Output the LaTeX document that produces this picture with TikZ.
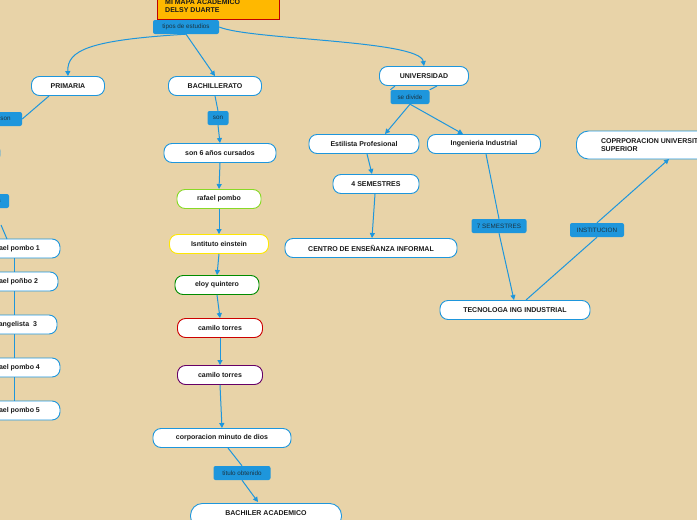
\documentclass[tikz,border=0pt]{standalone}
\usepackage{fontspec}
\setmainfont{Liberation Sans}
\usetikzlibrary{arrows.meta}
\definecolor{bg}{HTML}{E8D3A8}
\definecolor{lb}{HTML}{1E96DC}
\definecolor{tx}{HTML}{1A1A1A}
\tikzset{
 box/.style={draw=lb,fill=white,rounded corners=8pt,line width=0.9pt,minimum height=19pt,font=\fontsize{7}{8}\selectfont\bfseries,text=tx,inner xsep=2pt},
 lab/.style={fill=lb,rounded corners=2pt,minimum height=14pt,font=\fontsize{6.3}{7}\selectfont,text=tx!80!lb,inner xsep=4pt},
 con/.style={draw=lb,line width=1pt},
 arr/.style={con,-{Triangle[length=5pt,width=5pt]}}
}
\begin{document}
\begin{tikzpicture}[x=1pt,y=-1pt]
\fill[bg] (0,0) rectangle (697,520);
\useasboundingbox (0,0) rectangle (697,520);
% title
\draw[draw=red!75!black,fill=orange!30!yellow!85!red,line width=0.8pt] (157,-20) rectangle (279,19);
\node[anchor=west,align=left,font=\fontsize{7}{8}\selectfont\bfseries,text=tx,inner sep=0pt] (title) at (165,6) {MI MAPA ACADEMICO\\DELSY DUARTE};
\node[lab,minimum width=66pt] (tipos) at (186,27) {tipos de estudios};
\node[box,minimum width=73pt] (prim) at (68,86) {PRIMARIA};
\node[box,minimum width=93pt] (bach) at (215,86) {BACHILLERATO};
\node[box,minimum width=89pt] (univ) at (424,76) {UNIVERSIDAD};
\draw[arr] (tipos.south) .. controls (90,40) and (67,50) .. (prim.north);
\draw[arr] (tipos.south) -- (bach.north);
\draw[arr] (tipos.east) .. controls (250,40) and (420,40) .. (univ.north);
% left column
\node[lab,minimum width=36pt] (son1) at (4,119) {\phantom{x}son};
\node[box,minimum width=30pt] (left0) at (-15,153) {};
\node[lab,minimum width=26pt] (s2) at (-4,201) {\phantom{xx}s};
\draw[con] (prim.south west) ++(18,0) -- (son1.east);
\node[box,minimum width=90pt] (p1) at (15,248.5) {rafael pombo 1};
\node[box,minimum width=88pt] (p2) at (14,281.5) {rafael poñbo 2};
\node[box,minimum width=86pt] (p3) at (14,324.5) {evangelista \ 3};
\node[box,minimum width=90pt] (p4) at (15,367.5) {rafael pombo 4};
\node[box,minimum width=90pt] (p5) at (15,410.5) {rafael pombo 5};
\draw[con] (1,225) -- (7,239);
\draw[con] (14,258) -- (14,272) (14,291) -- (14,315) (14,334) -- (14,358) (14,377) -- (14,401);
% bachillerato column
\node[lab,minimum width=21pt] (son2) at (218,118) {son};
\node[box,minimum width=112pt] (seis) at (220,153) {son 6 años cursados};
\node[box,draw=green!45!yellow!70!gray,minimum width=84pt] (rp) at (219,199) {rafael pombo};
\node[box,draw=yellow!90!orange,minimum width=99pt] (ie) at (219,244) {Isntituto einstein};
\node[box,draw=green!55!black,minimum width=84pt] (eq) at (217,285) {eloy quintero};
\node[box,draw=red!80!black,minimum width=85pt] (ct1) at (220,328) {camilo torres};
\node[box,draw=violet!80!black,minimum width=85pt] (ct2) at (220,375) {camilo torres};
\node[box,minimum width=138pt] (cmd) at (222,438) {corporacion minuto de dios};
\node[lab,minimum width=57pt] (tit) at (242,473) {titulo obtenido};
\node[box,rounded corners=12pt,minimum width=151pt,minimum height=25pt,anchor=north] (ba) at (266,503) {\raisebox{6pt}{BACHILER ACADEMICO}};
\draw[con] (bach.south) -- (son2.north);
\draw[arr] (son2.south) -- (seis.north);
\draw[arr] (seis.south) -- (rp.north);
\draw[arr] (rp.south) -- (ie.north);
\draw[arr] (ie.south) -- (eq.north);
\draw[arr] (eq.south) -- (ct1.north);
\draw[arr] (ct1.south) -- (ct2.north);
\draw[arr] (ct2.south) -- (cmd.north);
\draw[con] (228,448) -- (tit.north);
\draw[arr] (tit.south) -- (258,502);
% universidad
\node[lab,minimum width=39pt] (div) at (410,97) {se divide};
\node[box,minimum width=110pt] (est) at (364,144) {Estilista Profesional};
\node[box,minimum width=113pt] (ing) at (484,144) {Ingenieria Industrial};
\node[box,minimum width=86pt] (sem4) at (376,184) {4 SEMESTRES};
\node[box,minimum width=172pt] (cei) at (371,248) {CENTRO DE ENSEÑANZA INFORMAL};
\node[lab,minimum width=55pt] (sem7) at (499,226) {7 SEMESTRES};
\node[box,minimum width=150pt] (tec) at (515,310) {TECNOLOGA ING INDUSTRIAL};
\node[lab,minimum width=54pt] (inst) at (597,230) {INSTITUCION};
\node[box,minimum width=150pt,minimum height=28pt,rounded corners=12pt,anchor=west,align=left] (cop) at (576,145) {\hspace{13pt}COPRPORACION UNIVERSITARIA\\\hspace{13pt}SUPERIOR};
\draw[con] (395,86) -- (div.north west);
\draw[con] (437,86) -- (div.north east);
\draw[arr] (div.south) -- (385,134);
\draw[arr] (div.south) -- (463,134);
\draw[arr] (367,154) -- (372,174);
\draw[arr] (375,194) -- (372,238);
\draw[con] (486,154) -- (sem7.north);
\draw[arr] (sem7.south) -- (514,300);
\draw[con] (526,300) -- (inst.south);
\draw[arr] (inst.north) -- (669,159);
\end{tikzpicture}
\end{document}
